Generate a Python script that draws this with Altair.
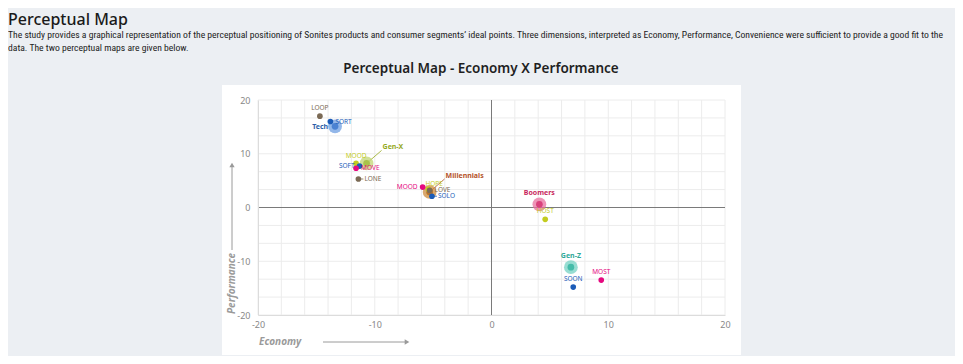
import altair as alt
import pandas as pd

# ---------------- data ----------------
product_names = ["LOOP", "SORT", "MOOD", "SOFT", "MOVE", "LONE", "MOOD", "HOPE", "LOVE", "SOLO", "HOST", "SOON", "MOST"]
product_economy = [-14.7, -13.8, -11.6, -11.3, -11.6, -11.4, -5.9, -5.4, -5.3, -5.1, 4.6, 7.0, 9.4]
product_performance = [17.0, 16.0, 8.2, 7.7, 7.3, 5.3, 3.8, 3.4, 3.2, 2.1, -2.2, -14.8, -13.5]
product_firm = ["brown", "blue", "lime", "blue", "pink", "brown", "pink", "lime", "brown", "blue", "lime", "blue", "pink"]

segment_names = ["Tech", "Gen-X", "Millennials", "Boomers", "Gen-Z"]
segment_economy = [-13.4, -10.7, -5.3, 4.1, 6.8]
segment_performance = [15.1, 8.2, 2.9, 0.6, -11.1]

axis_ticks = [-20, -10, 0, 10, 20]

# ---------------- styles ----------------
W, H = 467, 215
PX_X = W / 40.0
PX_Y = H / 40.0

firm_colors = {"brown": "#7b6a55", "blue": "#1b5cb8", "pink": "#e5097f", "lime": "#c3cc1f"}
# label placement (pixel dx, dy, align, leader)
product_label_style = [
    (0, -8, "center", False),
    (5, 0, "left", False),
    (0, -7, "center", False),
    (-5, 0, "right", False),
    (5, 0, "left", False),
    (6, 0, "left", True),
    (-5, 0, "right", False),
    (-3, -5, "left", False),
    (5, 0, "left", False),
    (6, 0, "left", True),
    (0, -8, "center", False),
    (0, -8, "center", False),
    (0, -8, "center", False),
]
segment_halo = ["#6f9fe2", "#c2d674", "#cc8b3c", "#e8709f", "#74d1c3"]
segment_core = ["#4b82d2", "#a9c24a", "#b8732a", "#d9417c", "#44bca9"]
segment_label_color = ["#2d5ea8", "#95a91d", "#b4532a", "#c81f5d", "#2fa898"]
segment_label_style = [
    (-7, 1, "right", False),
    (16, -16, "left", True),
    (16, -16, "left", True),
    (0, -11, "center", False),
    (0, -11, "center", False),
]

rows = []
for i, n in enumerate(product_names):
    dx, dy, al, lead = product_label_style[i]
    c = firm_colors[product_firm[i]]
    rows.append(dict(name=n, x=product_economy[i], y=product_performance[i], kind="product",
                     color=c, core=c, lcolor=c, lx=product_economy[i] + dx / PX_X,
                     ly=product_performance[i] - dy / PX_Y, align=al, lead=lead,
                     ex=product_economy[i] + (dx - (1 if lead else 0)) / PX_X,
                     ey=product_performance[i] - dy / PX_Y))
for i, n in enumerate(segment_names):
    dx, dy, al, lead = segment_label_style[i]
    rows.append(dict(name=n, x=segment_economy[i], y=segment_performance[i], kind="segment",
                     color=segment_halo[i], core=segment_core[i], lcolor=segment_label_color[i],
                     lx=segment_economy[i] + dx / PX_X, ly=segment_performance[i] - dy / PX_Y,
                     align=al, lead=lead,
                     ex=segment_economy[i] + (dx - 1) / PX_X, ey=segment_performance[i] - (dy + 3) / PX_Y))
df = pd.DataFrame(rows)

xs = alt.Scale(domain=[-20, 20], nice=False, zero=False)
ys = alt.Scale(domain=[-20, 20], nice=False, zero=False)
x_grid = list(range(-20, 21, 2))
y_grid = [-20 + i * 10 / 3 for i in range(13)]
x_axis = alt.Axis(values=axis_ticks, grid=False, ticks=False, domainColor="#dcdcdc", zindex=1,
                  labelFlush=False, labelOverlap=False,
                  labelExpr="toString(datum.value)", labelFont="Noto Sans", labelFontSize=9,
                  labelColor="#888888", labelPadding=5, title=None)
y_axis = alt.Axis(values=axis_ticks, grid=False, ticks=False, domainColor="#dcdcdc", zindex=1,
                  labelFlush=False, labelOverlap=False,
                  labelExpr="toString(datum.value)", labelFont="Noto Sans", labelFontSize=9,
                  labelColor="#888888", labelPadding=8, title=None)


def X(f):
    return alt.X(f, type="quantitative", scale=xs, axis=x_axis)


def Y(f):
    return alt.Y(f, type="quantitative", scale=ys, axis=y_axis)


base = alt.Chart(df)
one = alt.Chart(pd.DataFrame({"k": [0]}))

panel = one.mark_rect(color="white").encode(
    x=alt.value(-36), x2=alt.value(483), y=alt.value(-15), y2=alt.value(255))

grid_x = alt.Chart(pd.DataFrame({"gx": x_grid})).mark_rule(color="#ececec", strokeWidth=1).encode(x=X("gx"))
grid_y = alt.Chart(pd.DataFrame({"gy": y_grid})).mark_rule(color="#ececec", strokeWidth=1).encode(y=Y("gy"))

zero_x = one.mark_rule(color="#7a7a7a", strokeWidth=1).encode(x=X("zx")).transform_calculate(zx="0")
zero_y = one.mark_rule(color="#7a7a7a", strokeWidth=1).encode(y=Y("zy")).transform_calculate(zy="0")

leaders = base.transform_filter("datum.lead").mark_rule(strokeWidth=0.8).encode(
    x=X("x"), y=Y("y"), x2="ex:Q", y2="ey:Q", color=alt.Color("lcolor:N", scale=None))

halo = base.transform_filter("datum.kind == 'segment'").mark_circle(size=190, opacity=0.75).encode(
    x=X("x"), y=Y("y"), color=alt.Color("color:N", scale=None))
core = base.transform_filter("datum.kind == 'segment'").mark_circle(size=45, opacity=1).encode(
    x=X("x"), y=Y("y"), color=alt.Color("core:N", scale=None))
dots = base.transform_filter("datum.kind == 'product'").mark_circle(size=32, opacity=1).encode(
    x=X("x"), y=Y("y"), color=alt.Color("color:N", scale=None))

labels = []
for al in ["left", "center", "right"]:
    for kind, weight, fs in [("product", "normal", 6.5), ("segment", "bold", 7)]:
        labels.append(
            base.transform_filter(f"datum.align == '{al}' && datum.kind == '{kind}'")
            .mark_text(align=al, baseline="middle", font="Noto Sans", fontSize=fs, fontWeight=weight)
            .encode(x=X("lx"), y=Y("ly"), text="name:N", color=alt.Color("lcolor:N", scale=None)))

gray = "#9a9a9a"
econ_t = one.mark_text(text="Economy", align="left", baseline="middle", font="Noto Sans",
                       fontSize=10, fontStyle="italic", fontWeight="bold", color=gray).encode(
    x=alt.value(1), y=alt.value(242))
econ_line = one.mark_rule(color=gray, strokeWidth=1).encode(
    x=alt.value(65), x2=alt.value(148), y=alt.value(242))
econ_head = one.mark_point(shape="triangle-right", filled=True, size=28, color=gray, opacity=1).encode(
    x=alt.value(149), y=alt.value(242))
perf_t = one.mark_text(text="Performance", align="left", baseline="middle", angle=270, font="Noto Sans",
                       fontSize=10, fontStyle="italic", fontWeight="bold", color=gray).encode(
    x=alt.value(-26), y=alt.value(214))
perf_line = one.mark_rule(color=gray, strokeWidth=1).encode(
    x=alt.value(-26), y=alt.value(150), y2=alt.value(67))
perf_head = one.mark_point(shape="triangle-up", filled=True, size=28, color=gray, opacity=1).encode(
    x=alt.value(-26), y=alt.value(65))

title = one.mark_text(text="Perceptual Map - Economy X Performance", align="center", baseline="middle",
                      font="Noto Sans", fontSize=13.5, fontWeight=600, color="#1f1f1f").encode(
    x=alt.value(223), y=alt.value(-31))
header = one.mark_text(text="Perceptual Map", align="left", baseline="alphabetic",
                       font="Noto Sans", fontSize=16, fontWeight=500, color="#1a1a1a").encode(
    x=alt.value(-250), y=alt.value(-75))
para_font = "Liberation Sans Narrow, Roboto Condensed, DejaVu Sans Condensed, Roboto"
para1 = one.mark_text(
    text="The study provides a graphical representation of the perceptual positioning of Sonites products and consumer segments\u2019 ideal points. Three dimensions, interpreted as Economy, Performance, Convenience were sufficient to provide a good fit to the",
    align="left", baseline="alphabetic", font=para_font, fontSize=9.65, color="#222222").encode(
    x=alt.value(-250), y=alt.value(-62))
para2 = one.mark_text(
    text="data. The two perceptual maps are given below.",
    align="left", baseline="alphabetic", font=para_font, fontSize=9.65, color="#222222").encode(
    x=alt.value(-250), y=alt.value(-49))

chart = alt.layer(
    panel, grid_x, grid_y, zero_x, zero_y, leaders, halo, core, dots, *labels,
    econ_t, econ_line, econ_head, perf_t, perf_line, perf_head, title, header, para1, para2
).properties(
    width=W, height=H,
    autosize=alt.AutoSizeParams(type="none"),
    padding={"left": 250, "top": 92, "right": 230, "bottom": 41},
    background="#eceff3",
).configure_view(stroke=None)

chart.save("out.html", embed_options={"renderer": "svg", "actions": False})
